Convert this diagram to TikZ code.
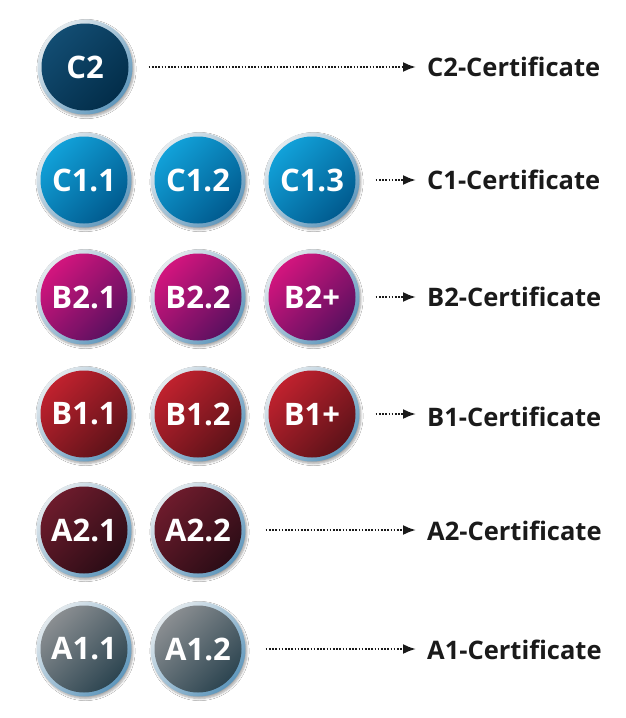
\documentclass[tikz,border=0pt]{standalone}
\usepackage{fontspec}
\setmainfont{Open Sans}
\usetikzlibrary{arrows.meta,shadows.blur}
\definecolor{ringlt}{HTML}{E4EAEE}
\definecolor{ringdk}{HTML}{5F97BC}
\definecolor{txtdark}{HTML}{1A1A1A}
\definecolor{ctwoL}{HTML}{134E74}\definecolor{ctwoD}{HTML}{022C48}
\definecolor{coneL}{HTML}{12A4DC}\definecolor{coneD}{HTML}{00588C}
\definecolor{btwoL}{HTML}{D8157F}\definecolor{btwoD}{HTML}{56105E}
\definecolor{boneL}{HTML}{C4222F}\definecolor{boneD}{HTML}{5A1218}
\definecolor{atwoL}{HTML}{701C2D}\definecolor{atwoD}{HTML}{290C15}
\definecolor{aoneL}{HTML}{8E9194}\definecolor{aoneD}{HTML}{29424E}
\begin{document}
\begin{tikzpicture}[x=1pt,y=-1pt,
  ball/.style 2 args={circle, minimum size=95pt, inner sep=0pt,
    top color=ringlt, bottom color=ringdk, shading angle=45,
    blur shadow={shadow xshift=1.5pt, shadow yshift=-2pt, shadow blur steps=6, shadow opacity=35},
    path picture={\shade[top color=#1, bottom color=#2, shading angle=45]
      (path picture bounding box.center) circle (43.5pt);},
    text=white, font=\fontsize{31}{35}\selectfont\bfseries},
  cert/.style={anchor=west, inner sep=0pt, text=txtdark, font=\fontsize{25.5}{30}\selectfont\bfseries},
  dotarrow/.style={line width=2.2pt, dash pattern=on 1.6pt off 1.6pt,
    -{Latex[length=13pt,width=10pt]}, txtdark}
]
\useasboundingbox (0,0) rectangle (626,718);
\fill[white] (0,0) rectangle (626,718);

% row C2
\node[ball={ctwoL}{ctwoD}] (c2) at (85,67) {C2};
% row C1
\node[ball={coneL}{coneD}] (c11) at (84,180) {C1.1};
\node[ball={coneL}{coneD}] (c12) at (198,180) {C1.2};
\node[ball={coneL}{coneD}] (c13) at (312,180) {C1.3};
% row B2
\node[ball={btwoL}{btwoD}] (b21) at (84,297) {B2.1};
\node[ball={btwoL}{btwoD}] (b22) at (198,297) {B2.2};
\node[ball={btwoL}{btwoD}] (b2p) at (312,297) {B2+};
% row B1
\node[ball={boneL}{boneD}] (b11) at (84,414) {B1.1};
\node[ball={boneL}{boneD}] (b12) at (198,414) {B1.2};
\node[ball={boneL}{boneD}] (b1p) at (312,414) {B1+};
% row A2
\node[ball={atwoL}{atwoD}] (a21) at (84,530) {A2.1};
\node[ball={atwoL}{atwoD}] (a22) at (198,530) {A2.2};
% row A1
\node[ball={aoneL}{aoneD}] (a11) at (84,649) {A1.1};
\node[ball={aoneL}{aoneD}] (a12) at (198,649) {A1.2};

% labels
\node[cert] (lc2) at (427,67) {C2-Certificate};
\node[cert] (lc1) at (427,180) {C1-Certificate};
\node[cert] (lb2) at (427,297) {B2-Certificate};
\node[cert] (lb1) at (427,417) {B1-Certificate};
\node[cert] (la2) at (427,531) {A2-Certificate};
\node[cert] (la1) at (427,650) {A1-Certificate};

% arrows
\draw[dotarrow] ([xshift=16pt]c2.east) -- ([xshift=-11pt]lc2.west |- c2.east);
\draw[dotarrow] ([xshift=16pt]c13.east) -- ([xshift=-11pt]lc1.west |- c13.east);
\draw[dotarrow] ([xshift=16pt]b2p.east) -- ([xshift=-11pt]lb2.west |- b2p.east);
\draw[dotarrow] ([xshift=16pt]b1p.east) -- ([xshift=-11pt]lb1.west |- b1p.east);
\draw[dotarrow] ([xshift=20pt]a22.east) -- ([xshift=-11pt]la2.west |- a22.east);
\draw[dotarrow] ([xshift=20pt]a12.east) -- ([xshift=-11pt]la1.west |- a12.east);
\end{tikzpicture}
\end{document}
